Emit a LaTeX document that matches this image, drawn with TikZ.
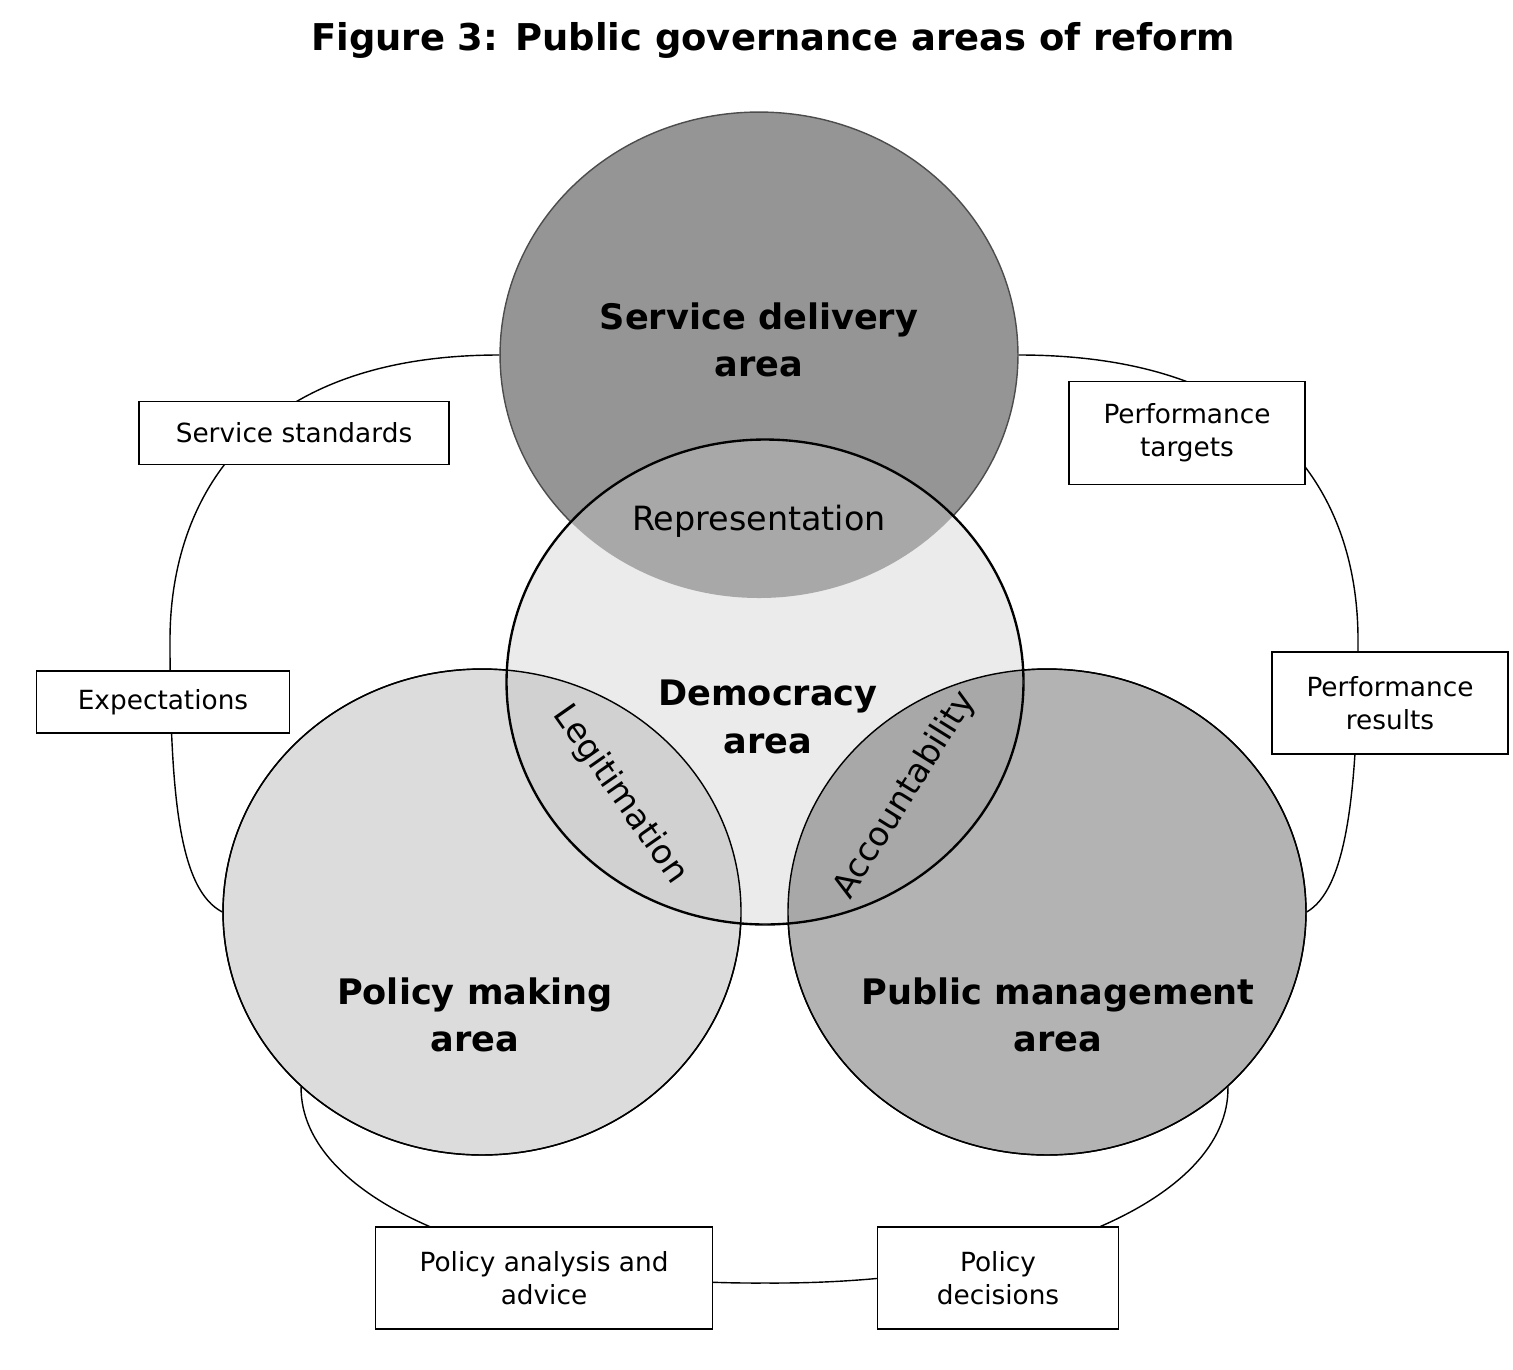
\documentclass[tikz,border=0pt]{standalone}
\usepackage{fontspec}
\setmainfont{DejaVu Sans}
\usetikzlibrary{shapes.geometric, positioning}
\definecolor{sdgray}{HTML}{959595}
\definecolor{pmgray}{HTML}{DCDCDC}
\definecolor{mggray}{HTML}{B3B3B3}
\definecolor{dmgray}{HTML}{EBEBEB}
\tikzset{
  area/.style={draw, ellipse, inner sep=0pt, minimum width=10.36cm, minimum height=9.72cm, line width=0.8pt},
  box/.style={draw, fill=white, align=center, inner sep=0pt, font=\fontsize{15}{19}\selectfont, line width=0.8pt},
  big/.style={align=center, font=\bfseries\fontsize{20}{27}\selectfont},
  mid/.style={font=\fontsize{19}{24}\selectfont}
}
\begin{document}
\begin{tikzpicture}[x=0.02cm, y=-0.02cm]
\useasboundingbox (0,0) rectangle (1513,1369);
\node[font=\bfseries\fontsize{21}{26}\selectfont] (title) at (773,40) {Figure 3: Public governance areas of reform};
% areas
\node[area, fill=sdgray, draw=black!70] (sd) at (759,355) {};
\node[area, fill=pmgray] (pm) at (482,912) {};
\node[area, fill=mggray] (mg) at (1047,912) {};
\node[area, fill=dmgray] (dm) at (765,682) {};
% overlaps
\begin{scope}
\clip (765,682) ellipse [x radius=258, y radius=242];
\fill[black!34] (759,355) ellipse [x radius=259, y radius=243];
\fill[black!18] (482,912) ellipse [x radius=259, y radius=243];
\fill[black!34] (1047,912) ellipse [x radius=259, y radius=243];
\end{scope}
\draw[line width=0.8pt] (765,682) ellipse [x radius=258, y radius=242];
\draw[line width=0.8pt] (482,912) ellipse [x radius=259, y radius=243];
\draw[line width=0.8pt] (1047,912) ellipse [x radius=259, y radius=243];
% outer links
\draw[line width=0.8pt] (sd.west) .. controls (250,355) and (170,500) .. (170,640)
  .. controls (170,800) and (180,890) .. (pm.west);
\draw[line width=0.8pt] (sd.east) .. controls (1280,355) and (1358,500) .. (1358,640)
  .. controls (1358,800) and (1345,890) .. (mg.east);
\draw[line width=0.8pt] (pm.224) .. controls (300,1200) and (500,1285) .. (765,1283)
  .. controls (1030,1285) and (1230,1200) .. (mg.316);
% labels
\node[big] (sdl) at (759,340) {Service delivery\\area};
\node[big] (pml) at (475,1015) {Policy making\\area};
\node[big] (mgl) at (1058,1015) {Public management\\area};
\node[big] (dml) at (768,717) {Democracy\\area};
\node[mid] (rep) at (759,521) {Representation};
\node[mid, rotate=-55] (leg) at (620,795) {Legitimation};
\node[mid, rotate=58] (acc) at (905,795) {Accountability};
% boxes
\node[box, minimum width=6.2cm, minimum height=1.26cm] (ss) at (294,433) {Service standards};
\node[box, minimum width=5.06cm, minimum height=1.24cm] (ex) at (163,702) {Expectations};
\node[box, minimum width=4.72cm, minimum height=2.06cm] (pt) at (1187,433) {Performance\\targets};
\node[box, minimum width=4.72cm, minimum height=2.04cm] (pr) at (1390,703) {Performance\\results};
\node[box, minimum width=6.74cm, minimum height=2.04cm] (pa) at (544,1278) {Policy analysis and\\advice};
\node[box, minimum width=4.82cm, minimum height=2.04cm] (pd) at (998,1278) {Policy\\decisions};
\end{tikzpicture}
\end{document}
